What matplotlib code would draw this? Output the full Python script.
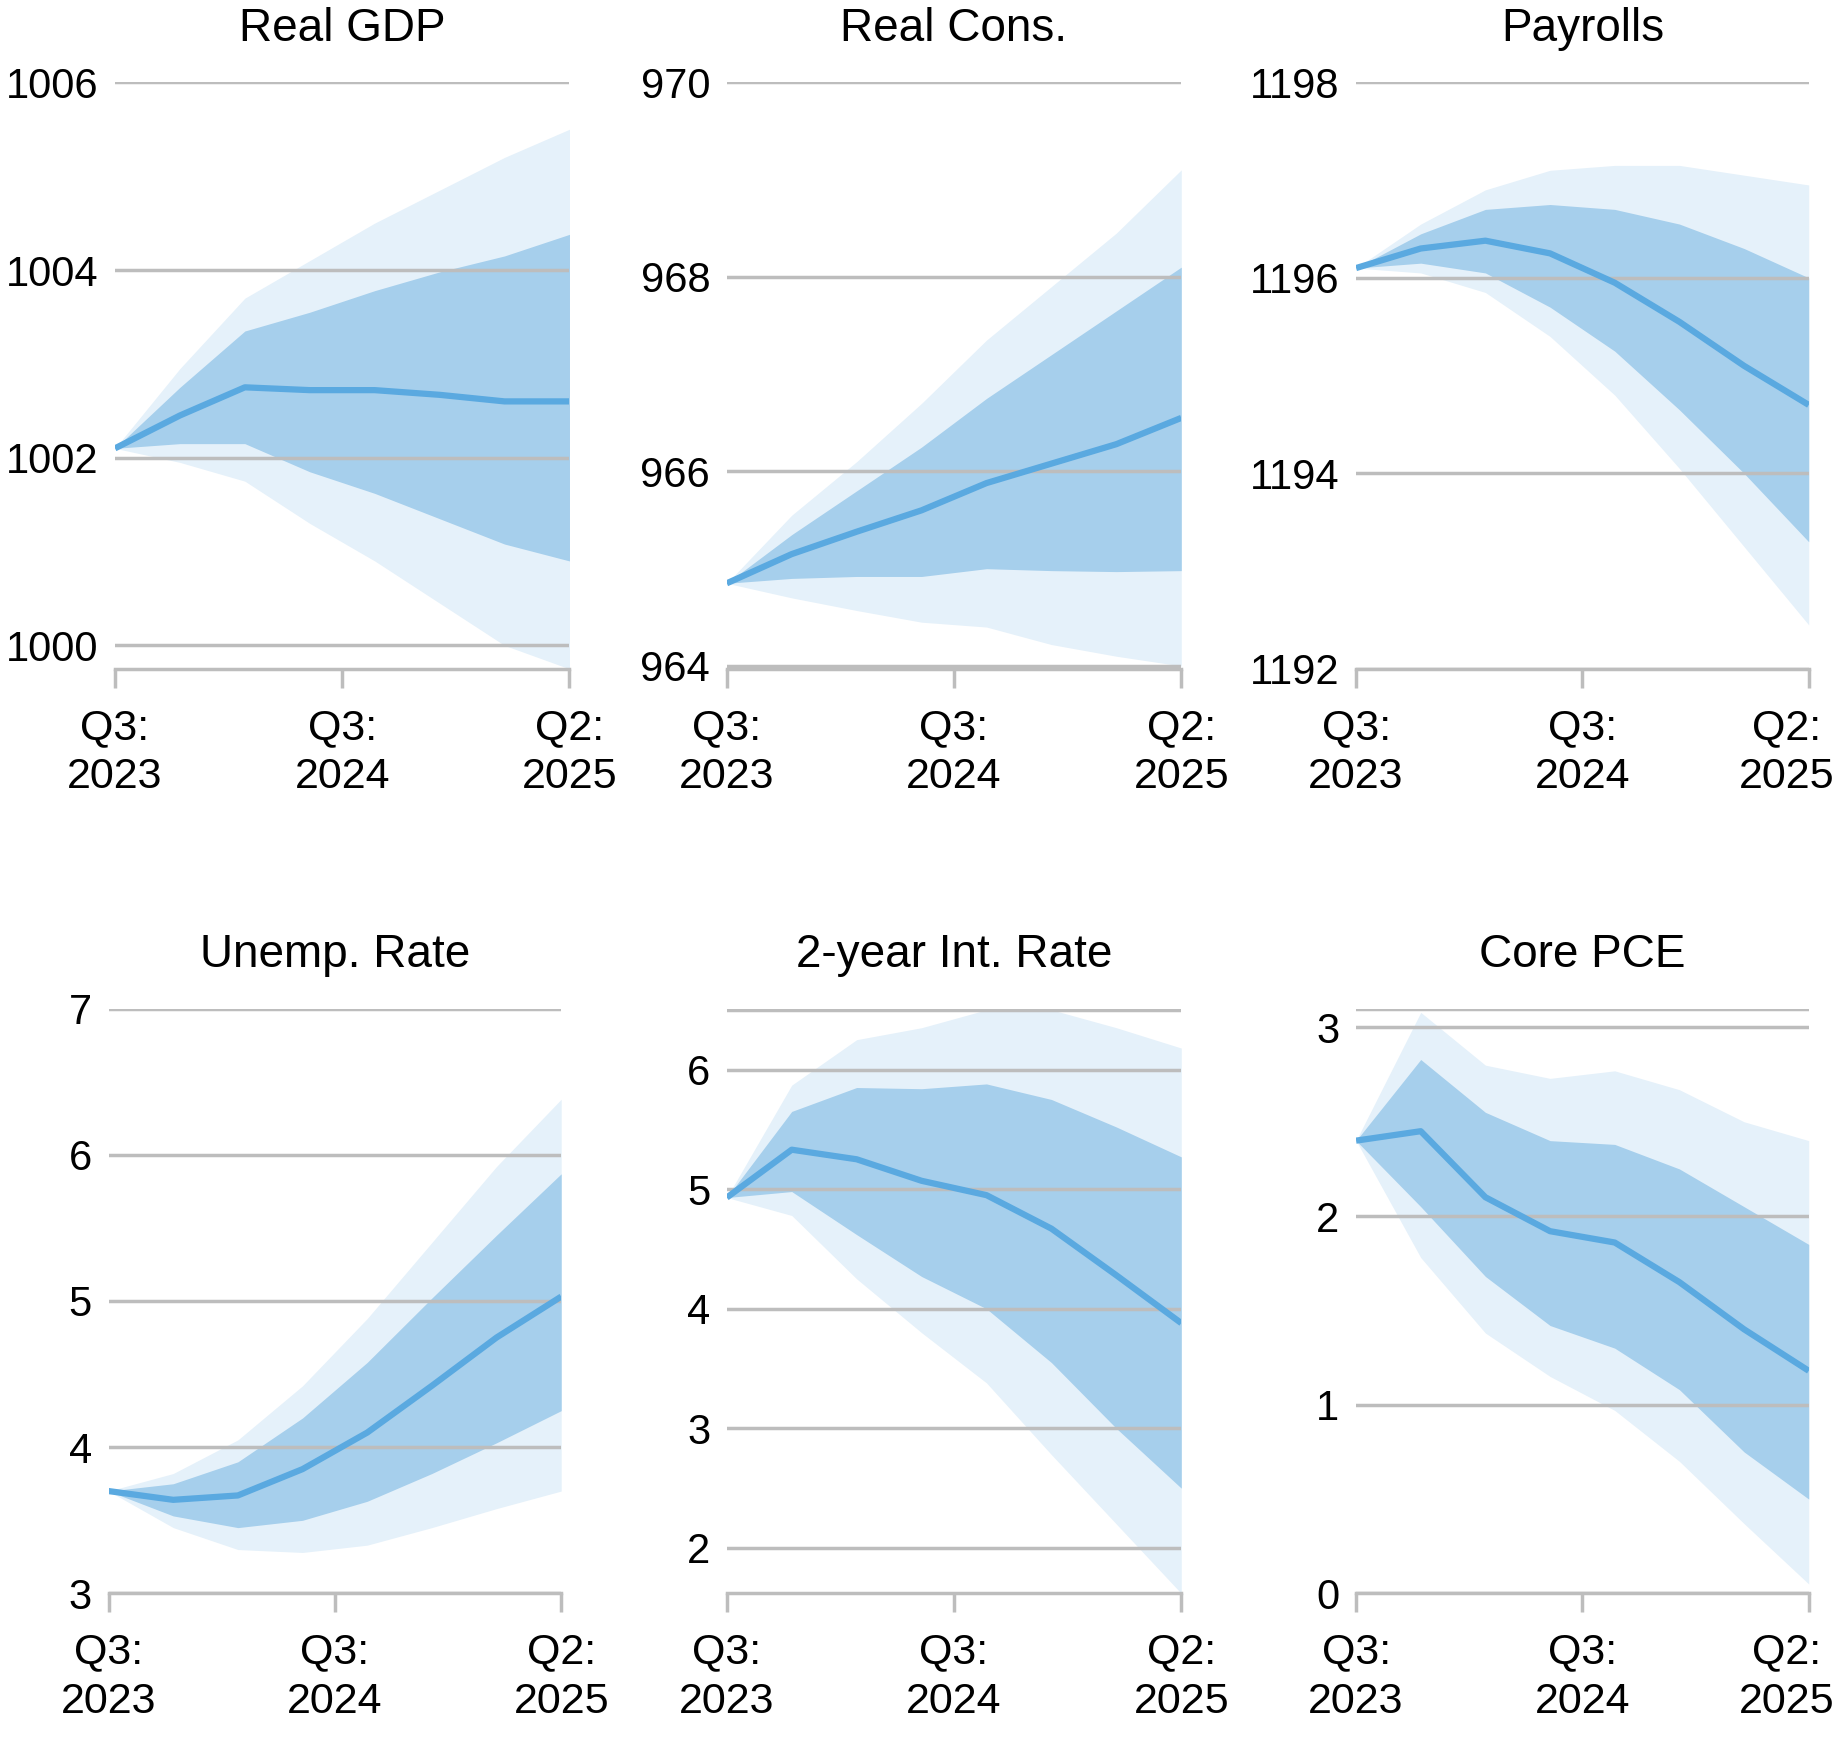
import matplotlib.pyplot as plt
import matplotlib.transforms as mtransforms

plt.rcParams['font.family'] = ['Liberation Sans', 'DejaVu Sans']

quarters = list(range(8))
xtick_pos = [0, 3.5, 7]
xtick_labels = ["Q3:\n2023", "Q3:\n2024", "Q2:\n2025"]

titles = ["Real GDP", "Real Cons.", "Payrolls", "Unemp. Rate", "2-year Int. Rate", "Core PCE"]

gdp_mid = [1002.1, 1002.45, 1002.75, 1002.72, 1002.72, 1002.67, 1002.6, 1002.6]
gdp_in_hi = [1002.1, 1002.75, 1003.35, 1003.55, 1003.78, 1003.98, 1004.15, 1004.38]
gdp_in_lo = [1002.1, 1002.15, 1002.15, 1001.85, 1001.62, 1001.35, 1001.08, 1000.9]
gdp_out_hi = [1002.1, 1002.95, 1003.7, 1004.1, 1004.5, 1004.85, 1005.2, 1005.5]
gdp_out_lo = [1002.1, 1001.95, 1001.75, 1001.3, 1000.9, 1000.45, 1000.0, 999.75]

cons_mid = [964.85, 965.15, 965.38, 965.6, 965.88, 966.08, 966.28, 966.55]
cons_in_hi = [964.85, 965.35, 965.8, 966.25, 966.75, 967.2, 967.65, 968.1]
cons_in_lo = [964.85, 964.9, 964.92, 964.92, 965.0, 964.98, 964.97, 964.98]
cons_out_hi = [964.85, 965.55, 966.1, 966.7, 967.35, 967.9, 968.45, 969.1]
cons_out_lo = [964.85, 964.7, 964.57, 964.45, 964.4, 964.22, 964.1, 964.0]

pay_mid = [1196.1, 1196.3, 1196.38, 1196.25, 1195.95, 1195.55, 1195.1, 1194.7]
pay_in_hi = [1196.1, 1196.45, 1196.7, 1196.75, 1196.7, 1196.55, 1196.3, 1196.0]
pay_in_lo = [1196.1, 1196.15, 1196.05, 1195.7, 1195.25, 1194.65, 1194.0, 1193.3]
pay_out_hi = [1196.1, 1196.55, 1196.9, 1197.1, 1197.15, 1197.15, 1197.05, 1196.95]
pay_out_lo = [1196.1, 1196.05, 1195.85, 1195.4, 1194.8, 1194.05, 1193.25, 1192.45]

unemp_mid = [3.7, 3.64, 3.67, 3.85, 4.1, 4.42, 4.75, 5.03]
unemp_in_hi = [3.7, 3.75, 3.9, 4.2, 4.58, 5.02, 5.45, 5.87]
unemp_in_lo = [3.7, 3.53, 3.45, 3.5, 3.63, 3.82, 4.03, 4.25]
unemp_out_hi = [3.7, 3.82, 4.05, 4.42, 4.88, 5.4, 5.92, 6.38]
unemp_out_lo = [3.7, 3.45, 3.3, 3.28, 3.33, 3.45, 3.58, 3.7]

rate_mid = [4.93, 5.33, 5.25, 5.07, 4.95, 4.67, 4.28, 3.88]
rate_in_hi = [4.93, 5.65, 5.85, 5.84, 5.88, 5.75, 5.52, 5.27]
rate_in_lo = [4.93, 4.98, 4.62, 4.27, 4.0, 3.55, 3.0, 2.5]
rate_out_hi = [4.93, 5.87, 6.25, 6.35, 6.5, 6.5, 6.35, 6.18]
rate_out_lo = [4.93, 4.78, 4.25, 3.8, 3.38, 2.78, 2.2, 1.62]

pce_mid = [2.4, 2.45, 2.1, 1.92, 1.86, 1.65, 1.4, 1.18]
pce_in_hi = [2.4, 2.83, 2.55, 2.4, 2.38, 2.25, 2.05, 1.85]
pce_in_lo = [2.4, 2.05, 1.68, 1.42, 1.3, 1.08, 0.75, 0.5]
pce_out_hi = [2.4, 3.08, 2.8, 2.73, 2.77, 2.67, 2.5, 2.4]
pce_out_lo = [2.4, 1.78, 1.38, 1.15, 0.97, 0.7, 0.37, 0.05]

series = [
    (gdp_mid, gdp_in_hi, gdp_in_lo, gdp_out_hi, gdp_out_lo),
    (cons_mid, cons_in_hi, cons_in_lo, cons_out_hi, cons_out_lo),
    (pay_mid, pay_in_hi, pay_in_lo, pay_out_hi, pay_out_lo),
    (unemp_mid, unemp_in_hi, unemp_in_lo, unemp_out_hi, unemp_out_lo),
    (rate_mid, rate_in_hi, rate_in_lo, rate_out_hi, rate_out_lo),
    (pce_mid, pce_in_hi, pce_in_lo, pce_out_hi, pce_out_lo),
]
yticks = [
    [1000, 1002, 1004, 1006],
    [964, 966, 968, 970],
    [1192, 1194, 1196, 1198],
    [3, 4, 5, 6, 7],
    [2, 3, 4, 5, 6],
    [0, 1, 2, 3],
]
extra_grid = [None, None, None, None, 6.5, 3.1]
ylims = [(999.75, 1006), (963.97, 970), (1192, 1198), (3, 7), (1.62, 6.51), (0, 3.1)]

# axes positions [left, bottom, width, height] in figure fractions
positions = [
    [0.0625, 0.618, 0.247, 0.335],
    [0.395, 0.618, 0.247, 0.335],
    [0.737, 0.618, 0.246, 0.335],
    [0.059, 0.090, 0.246, 0.334],
    [0.395, 0.090, 0.247, 0.334],
    [0.737, 0.090, 0.246, 0.334],
]

LINE = '#5aa9e0'
INNER = '#a6cfec'
OUTER = '#e5f1fa'
GRID = '#bdbdbd'

fig = plt.figure(figsize=(18.4, 17.51), dpi=100)
for i in range(6):
    ax = fig.add_axes(positions[i])
    mid, in_hi, in_lo, out_hi, out_lo = series[i]
    ax.fill_between(quarters, out_lo, out_hi, color=OUTER, lw=0, zorder=1)
    ax.fill_between(quarters, in_lo, in_hi, color=INNER, lw=0, zorder=2)
    ax.plot(quarters, mid, color=LINE, lw=4.5, zorder=4, solid_capstyle='butt')
    for y in yticks[i]:
        ax.axhline(y, color=GRID, lw=2.5, zorder=3)
    if extra_grid[i] is not None:
        ax.axhline(extra_grid[i], color=GRID, lw=2.5, zorder=3)
    ax.set_ylim(*ylims[i])
    ax.set_xlim(0, 7)
    ax.set_yticks(yticks[i])
    ax.set_yticklabels([str(v) for v in yticks[i]])
    ax.set_xticks(xtick_pos)
    ax.set_xticklabels(xtick_labels, linespacing=1.3)
    ax.tick_params(axis='y', length=0, labelsize=30, pad=12)
    ax.tick_params(axis='x', length=14, width=2.5, color=GRID, labelsize=31, pad=14)
    for s in ['top', 'right', 'left']:
        ax.spines[s].set_visible(False)
    ax.spines['bottom'].set_color(GRID)
    ax.spines['bottom'].set_linewidth(2.5)
    ax.set_title(titles[i], fontsize=33, pad=30)
    if i in (2, 5):
        lab = ax.get_xticklabels()[-1]
        lab.set_transform(lab.get_transform() + mtransforms.ScaledTranslation(-0.22, 0, fig.dpi_scale_trans))

fig.savefig('out.png', dpi=100)
